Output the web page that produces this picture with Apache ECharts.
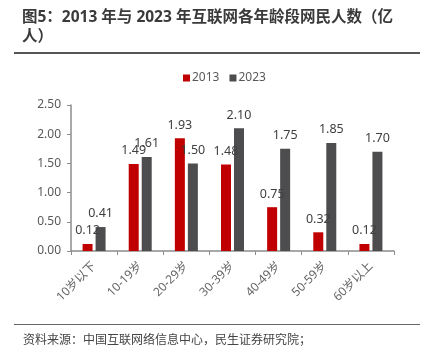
<!DOCTYPE html>
<html><head><meta charset="utf-8">
<script src="https://cdn.jsdelivr.net/npm/echarts@6/dist/echarts.min.js"></script>
<style>
html,body{margin:0;padding:0;background:#fff;}
#wrap{position:relative;width:426px;height:362px;font-family:"Noto Sans","Noto Sans CJK SC",sans-serif;}
#title{position:absolute;left:22px;top:7px;width:392px;font-size:15.5px;font-weight:bold;color:#3a3a3a;line-height:19px;}
#l1{position:absolute;left:14px;top:52px;width:406px;height:2px;background:#555;}
#l2{position:absolute;left:14px;top:324px;width:406px;height:1px;background:#666;}
#foot{position:absolute;left:23px;top:330px;font-size:12px;color:#444;font-family:"Noto Sans CJK SC",sans-serif;}
#chart{position:absolute;left:0;top:0;width:426px;height:362px;}
</style></head>
<body><div id="wrap">
<div id="chart"></div>
<div id="title">图5：2013 年与 2023 年互联网各年龄段网民人数（亿人）</div>
<div id="l1"></div>
<div id="l2"></div>
<div id="foot">资料来源：中国互联网络信息中心，民生证券研究院；</div>
</div>
<script>
var categories = ["10岁以下","10-19岁","20-29岁","30-39岁","40-49岁","50-59岁","60岁以上"];
var s2013 = [0.12,1.49,1.93,1.48,0.75,0.32,0.12];
var s2023 = [0.41,1.61,1.50,2.10,1.75,1.85,1.70];
var seriesNames = ["2013","2023"];
var chart = echarts.init(document.getElementById('chart'));
var lbl = {show:true,position:'top',distance:7,color:'#404040',fontSize:12.5,formatter:function(p){return p.value.toFixed(2);}};
chart.setOption({
  animation:false,
  textStyle:{fontFamily:'"Noto Sans","Noto Sans CJK SC",sans-serif'},
  legend:{top:67,left:178,itemWidth:7,itemHeight:7,itemGap:10,icon:'rect',textStyle:{color:'#595959',fontSize:12,padding:[0,0,0,-3]},data:seriesNames},
  grid:{left:71,right:32,top:105,bottom:111,containLabel:false},
  xAxis:{type:'category',data:categories,
    axisLine:{lineStyle:{color:'#8c8c8c',width:1.5}},
    axisTick:{show:true,alignWithLabel:false,length:4,lineStyle:{color:'#8c8c8c'}},
    axisLabel:{rotate:45,color:'#666',fontSize:12,margin:13,interval:0}},
  yAxis:{type:'value',min:0,max:2.5,interval:0.5,
    axisLine:{show:true,lineStyle:{color:'#8c8c8c',width:1.5}},
    axisTick:{show:true,inside:false,length:4,lineStyle:{color:'#8c8c8c'}},
    splitLine:{show:false},
    axisLabel:{color:'#595959',fontSize:12,margin:10,formatter:function(v){return v.toFixed(2);}}},
  series:[
    {name:seriesNames[0],type:'bar',data:s2013,barWidth:10,barGap:'30%',itemStyle:{color:'#C00000'},label:lbl},
    {name:seriesNames[1],type:'bar',data:s2023,barWidth:10,itemStyle:{color:'#4D4D4F'},label:lbl}
  ]
});
</script>
</body></html>
